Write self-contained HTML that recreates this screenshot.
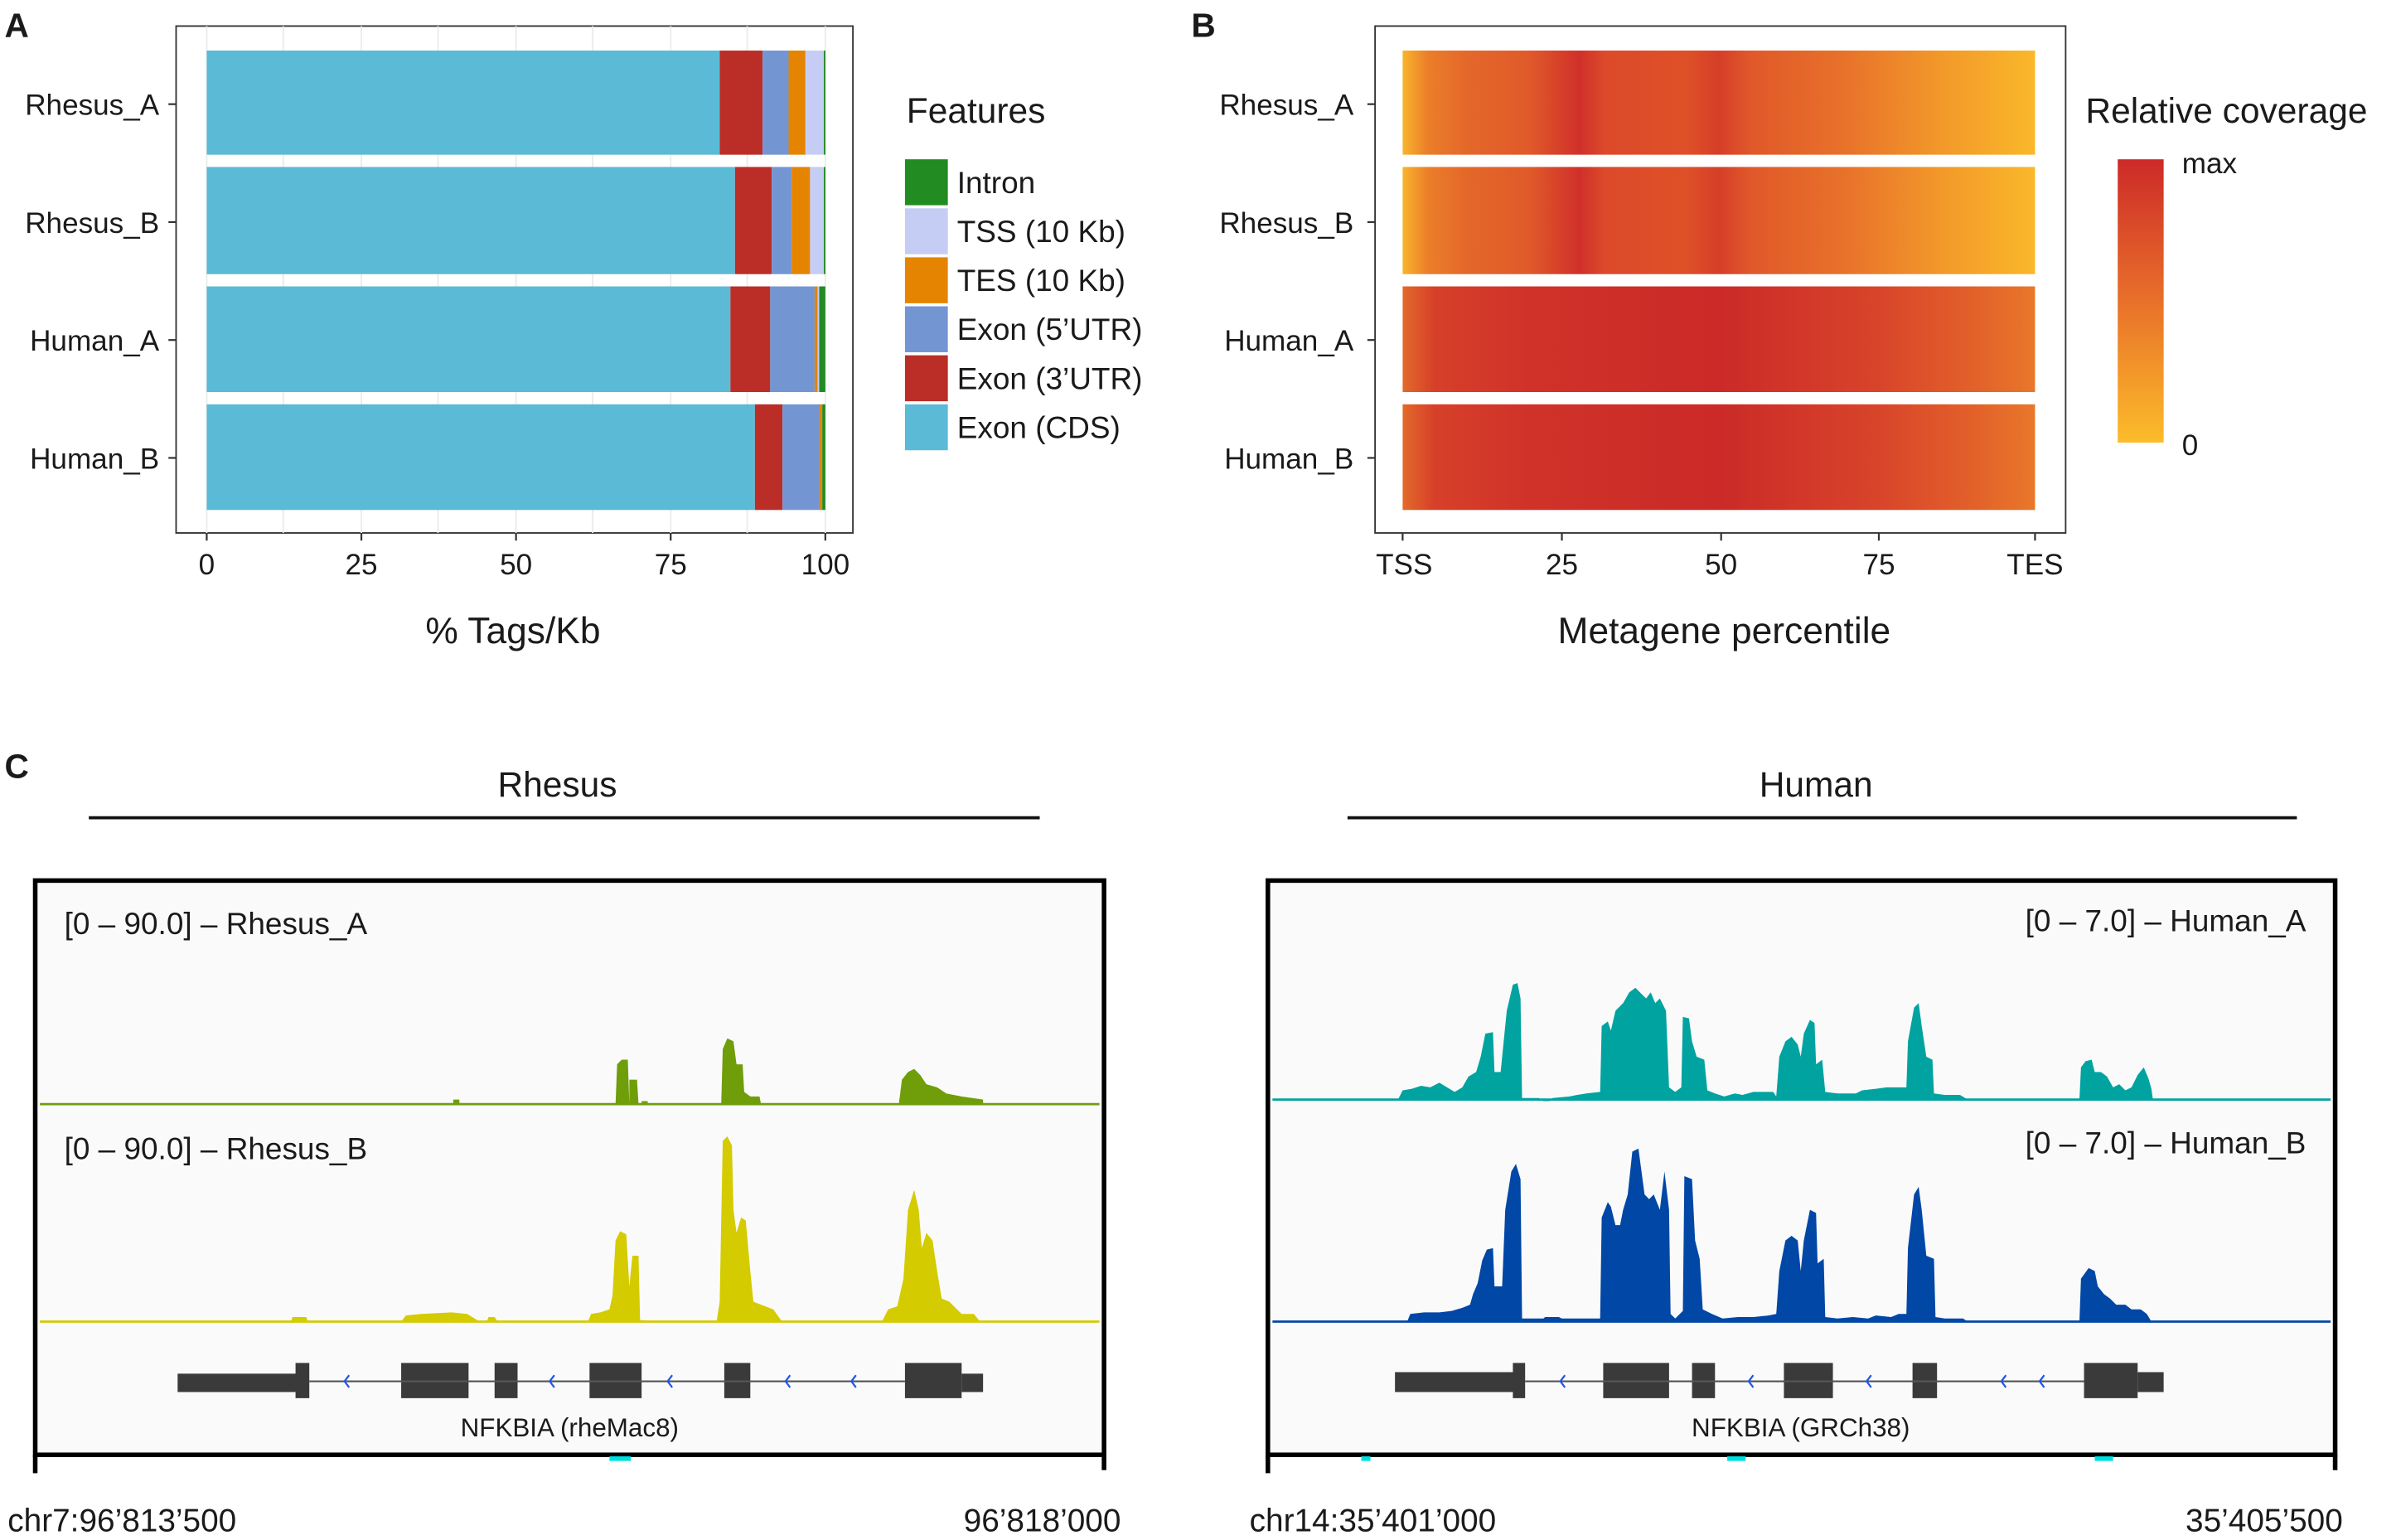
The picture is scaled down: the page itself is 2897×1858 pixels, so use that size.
<!DOCTYPE html>
<html><head><meta charset="utf-8"><style>
html,body{margin:0;padding:0;background:#fff}
svg{display:block}
text{font-family:"Liberation Sans",sans-serif;fill:#1a1a1a}
</style></head><body>
<svg width="2897" height="1858" viewBox="0 0 1568 1005.6" xmlns="http://www.w3.org/2000/svg">
<defs>
<linearGradient id="rh" x1="0" x2="1" y1="0" y2="0">
<stop offset="0" stop-color="#f8b42c"/><stop offset="0.04" stop-color="#eb7e2a"/><stop offset="0.1" stop-color="#e4682a"/>
<stop offset="0.2" stop-color="#e05a2a"/><stop offset="0.28" stop-color="#d0302a"/><stop offset="0.32" stop-color="#dc4a2a"/>
<stop offset="0.45" stop-color="#de5028"/><stop offset="0.5" stop-color="#d63e28"/><stop offset="0.55" stop-color="#e0582a"/>
<stop offset="0.7" stop-color="#e8722a"/><stop offset="0.85" stop-color="#f2982a"/><stop offset="1" stop-color="#fab82a"/>
</linearGradient>
<linearGradient id="hu" x1="0" x2="1" y1="0" y2="0">
<stop offset="0" stop-color="#e36a2a"/><stop offset="0.05" stop-color="#d64029"/><stop offset="0.2" stop-color="#d03229"/>
<stop offset="0.5" stop-color="#cb2a28"/><stop offset="0.75" stop-color="#d8442a"/><stop offset="0.9" stop-color="#e2602a"/><stop offset="1" stop-color="#e8782a"/>
</linearGradient>
<linearGradient id="leg" x1="0" x2="0" y1="0" y2="1">
<stop offset="0" stop-color="#cc2a28"/><stop offset="0.5" stop-color="#e8702a"/><stop offset="1" stop-color="#fcbc2a"/>
</linearGradient>
</defs>

<!-- Panel A -->
<text x="3" y="24" font-size="22" font-weight="bold">A</text>
<rect x="115" y="17" width="442" height="331" fill="#fff" stroke="#333" stroke-width="1"/>
<g stroke="#ebebeb" stroke-width="1">
<line x1="135" y1="17" x2="135" y2="348"/><line x1="236" y1="17" x2="236" y2="348"/><line x1="337" y1="17" x2="337" y2="348"/><line x1="438" y1="17" x2="438" y2="348"/><line x1="539" y1="17" x2="539" y2="348"/>
<line x1="185" y1="17" x2="185" y2="348"/><line x1="286" y1="17" x2="286" y2="348"/><line x1="387" y1="17" x2="387" y2="348"/><line x1="488" y1="17" x2="488" y2="348"/>
</g>
<g>
<rect x="135" y="33" width="335" height="68" fill="#5bbad5"/><rect x="470" y="33" width="28" height="68" fill="#bb2e27"/><rect x="498" y="33" width="17" height="68" fill="#7396d3"/><rect x="515" y="33" width="11" height="68" fill="#e48400"/><rect x="526" y="33" width="12" height="68" fill="#c5cdf5"/><rect x="538" y="33" width="1" height="68" fill="#228b22"/>
<rect x="135" y="109" width="345" height="70" fill="#5bbad5"/><rect x="480" y="109" width="24" height="70" fill="#bb2e27"/><rect x="504" y="109" width="13" height="70" fill="#7396d3"/><rect x="517" y="109" width="12" height="70" fill="#e48400"/><rect x="529" y="109" width="9" height="70" fill="#c5cdf5"/><rect x="538" y="109" width="1" height="70" fill="#228b22"/>
<rect x="135" y="187" width="342" height="69" fill="#5bbad5"/><rect x="477" y="187" width="26" height="69" fill="#bb2e27"/><rect x="503" y="187" width="29" height="69" fill="#7396d3"/><rect x="532" y="187" width="2" height="69" fill="#e48400"/><rect x="534" y="187" width="1" height="69" fill="#c5cdf5"/><rect x="535" y="187" width="4" height="69" fill="#228b22"/>
<rect x="135" y="264" width="358" height="69" fill="#5bbad5"/><rect x="493" y="264" width="18" height="69" fill="#bb2e27"/><rect x="511" y="264" width="24" height="69" fill="#7396d3"/><rect x="535" y="264" width="2" height="69" fill="#e48400"/><rect x="537" y="264" width="2" height="69" fill="#228b22"/>
</g>
<g stroke="#333" stroke-width="1.2">
<line x1="110" y1="68" x2="115" y2="68"/><line x1="110" y1="145" x2="115" y2="145"/><line x1="110" y1="222" x2="115" y2="222"/><line x1="110" y1="299" x2="115" y2="299"/>
<line x1="135" y1="348" x2="135" y2="353"/><line x1="236" y1="348" x2="236" y2="353"/><line x1="337" y1="348" x2="337" y2="353"/><line x1="438" y1="348" x2="438" y2="353"/><line x1="539" y1="348" x2="539" y2="353"/>
</g>
<g font-size="19" text-anchor="end">
<text x="104" y="75">Rhesus_A</text><text x="104" y="152">Rhesus_B</text><text x="104" y="229">Human_A</text><text x="104" y="306">Human_B</text>
</g>
<g font-size="19" text-anchor="middle">
<text x="135" y="375">0</text><text x="236" y="375">25</text><text x="337" y="375">50</text><text x="438" y="375">75</text><text x="539" y="375">100</text>
</g>
<text x="335" y="420" font-size="24" text-anchor="middle">% Tags/Kb</text>
<text x="592" y="80" font-size="23">Features</text>
<g>
<rect x="591" y="104" width="28" height="30" fill="#228b22"/><rect x="591" y="136" width="28" height="30" fill="#c5cdf5"/><rect x="591" y="168" width="28" height="30" fill="#e48400"/>
<rect x="591" y="200" width="28" height="30" fill="#7396d3"/><rect x="591" y="232" width="28" height="30" fill="#bb2e27"/><rect x="591" y="264" width="28" height="30" fill="#5bbad5"/>
</g>
<g font-size="20">
<text x="625" y="126">Intron</text><text x="625" y="158">TSS (10 Kb)</text><text x="625" y="190">TES (10 Kb)</text>
<text x="625" y="222">Exon (5’UTR)</text><text x="625" y="254">Exon (3’UTR)</text><text x="625" y="286">Exon (CDS)</text>
</g>

<!-- Panel B -->
<text x="778" y="24" font-size="22" font-weight="bold">B</text>
<rect x="898" y="17" width="451" height="331" fill="#fff" stroke="#333" stroke-width="1"/>
<rect x="916" y="33" width="413" height="68" fill="url(#rh)"/>
<rect x="916" y="109" width="413" height="70" fill="url(#rh)"/>
<rect x="916" y="187" width="413" height="69" fill="url(#hu)"/>
<rect x="916" y="264" width="413" height="69" fill="url(#hu)"/>
<g stroke="#333" stroke-width="1.2">
<line x1="893" y1="68" x2="898" y2="68"/><line x1="893" y1="145" x2="898" y2="145"/><line x1="893" y1="222" x2="898" y2="222"/><line x1="893" y1="299" x2="898" y2="299"/>
<line x1="916" y1="348" x2="916" y2="353"/><line x1="1020" y1="348" x2="1020" y2="353"/><line x1="1124" y1="348" x2="1124" y2="353"/><line x1="1227" y1="348" x2="1227" y2="353"/><line x1="1329" y1="348" x2="1329" y2="353"/>
</g>
<g font-size="19" text-anchor="end">
<text x="884" y="75">Rhesus_A</text><text x="884" y="152">Rhesus_B</text><text x="884" y="229">Human_A</text><text x="884" y="306">Human_B</text>
</g>
<g font-size="19" text-anchor="middle">
<text x="917" y="375">TSS</text><text x="1020" y="375">25</text><text x="1124" y="375">50</text><text x="1227" y="375">75</text><text x="1329" y="375">TES</text>
</g>
<text x="1126" y="420" font-size="24" text-anchor="middle">Metagene percentile</text>
<text x="1362" y="80" font-size="23">Relative coverage</text>
<rect x="1383" y="104" width="30" height="185" fill="url(#leg)"/>
<text x="1425" y="113" font-size="19">max</text>
<text x="1425" y="297" font-size="19">0</text>

<!-- Panel C -->
<text x="3" y="508" font-size="22" font-weight="bold">C</text>
<text x="364" y="520" font-size="23" text-anchor="middle">Rhesus</text>
<line x1="58" y1="534" x2="679" y2="534" stroke="#111" stroke-width="2"/>
<text x="1186" y="520" font-size="23" text-anchor="middle">Human</text>
<line x1="880" y1="534" x2="1500" y2="534" stroke="#111" stroke-width="2"/>

<!-- Rhesus box -->
<rect x="23" y="575" width="698" height="375" fill="#fafafa" stroke="#000" stroke-width="3"/>
<line x1="23" y1="950" x2="23" y2="962" stroke="#000" stroke-width="3"/><line x1="721" y1="950" x2="721" y2="960" stroke="#000" stroke-width="3"/>
<rect x="398" y="951" width="14" height="3" fill="#00e0e0"/>
<text x="42" y="610" font-size="20">[0 – 90.0] – Rhesus_A</text>
<text x="42" y="757" font-size="20">[0 – 90.0] – Rhesus_B</text>
<polygon fill="#6f9e0a" points="296,721 296,718 300,718 300,721 402,721 403,695 406,692 410,692 411,721 411,705 416,705 417,721 419,721 419,719 423,719 423,721 471,721 472,685 475,678 479,680 481,695 485,695 486,713 490,716 496,716 497,721 587,721 589,705 593,700 597,698 601,702 605,708 612,710 618,714 628,716 642,718 642,721"/>
<line x1="26" y1="721" x2="718" y2="721" stroke="#6f9e0a" stroke-width="1.5"/>
<polygon fill="#d4cb00" points="190,863 191,860 200,860 201,863 262,863 265,859 275,858 295,857 305,858 310,861 313,863 318,863 319,860 323,860 325,863 384,863 386,858 392,857 398,855 400,846 402,810 405,804 409,806 411,840 413,820 417,820 418,862 430,863 468,863 470,850 472,745 475,742 478,748 479,790 481,805 484,795 487,797 490,830 492,850 497,852 505,855 510,862 512,863 576,863 580,855 586,853 590,835 593,790 597,777 600,790 602,815 605,805 609,810 612,830 615,848 620,850 625,855 628,858 636,858 640,863"/>
<line x1="26" y1="863" x2="718" y2="863" stroke="#d4cb00" stroke-width="1.5"/>
<g fill="#3a3a3a">
<rect x="116" y="897" width="78" height="12"/><rect x="193" y="890" width="9" height="23"/>
<rect x="262" y="890" width="44" height="23"/><rect x="323" y="890" width="15" height="23"/><rect x="385" y="890" width="34" height="23"/>
<rect x="473" y="890" width="17" height="23"/><rect x="591" y="890" width="37" height="23"/><rect x="628" y="897" width="14" height="12"/>
</g>
<line x1="202" y1="902" x2="591" y2="902" stroke="#555" stroke-width="1.2"/>
<g fill="none" stroke="#2255ee" stroke-width="1.2"><path d="M228,898 L225,902 L228,906"/><path d="M362,898 L359,902 L362,906"/><path d="M439,898 L436,902 L439,906"/><path d="M516,898 L513,902 L516,906"/><path d="M559,898 L556,902 L559,906"/></g>
<text x="372" y="938" font-size="17" text-anchor="middle">NFKBIA (rheMac8)</text>
<text x="5" y="1000" font-size="21">chr7:96’813’500</text>
<text x="732" y="1000" font-size="21" text-anchor="end">96’818’000</text>

<!-- Human box -->
<rect x="828" y="575" width="697" height="375" fill="#fafafa" stroke="#000" stroke-width="3"/>
<line x1="828" y1="950" x2="828" y2="962" stroke="#000" stroke-width="3"/><line x1="1525" y1="950" x2="1525" y2="960" stroke="#000" stroke-width="3"/>
<rect x="889" y="951" width="6" height="3" fill="#00e0e0"/><rect x="1128" y="951" width="12" height="3" fill="#00e0e0"/><rect x="1368" y="951" width="12" height="3" fill="#00e0e0"/>
<text x="1506" y="608" font-size="20" text-anchor="end">[0 – 7.0] – Human_A</text>
<text x="1506" y="753" font-size="20" text-anchor="end">[0 – 7.0] – Human_B</text>
<polygon fill="#00a3a0" points="913,718 916,712 922,711 928,709 934,710 940,707 945,710 950,713 955,710 959,703 964,700 967,690 970,675 975,674 976,700 980,700 984,660 988,643 991,642 993,652 994,717 1005,717 1008,719 1012,719 1014,717 1025,716 1030,715 1036,714 1045,713 1046,670 1050,667 1052,673 1055,660 1060,655 1064,648 1068,645 1072,649 1075,652 1078,648 1081,655 1084,652 1088,660 1090,710 1094,713 1098,710 1099,664 1103,665 1105,680 1108,690 1113,692 1115,712 1120,714 1126,716 1133,714 1138,715 1145,713 1158,713 1160,716 1162,690 1166,680 1170,677 1174,682 1176,690 1178,675 1182,666 1185,668 1186,695 1190,692 1192,713 1200,714 1212,714 1216,712 1225,711 1232,710 1240,710 1245,710 1246,680 1250,658 1253,655 1255,670 1258,690 1262,692 1263,714 1270,715 1280,715 1285,718 1358,718 1359,697 1362,693 1366,692 1368,700 1372,700 1376,703 1380,710 1384,708 1388,712 1392,710 1396,702 1400,697 1403,704 1405,711 1406,718"/>
<line x1="831" y1="718" x2="1522" y2="718" stroke="#00a3a0" stroke-width="1.5"/>
<polygon fill="#0047a6" points="919,863 921,858 930,857 940,857 948,856 955,854 960,852 962,845 965,838 968,823 971,816 975,815 976,840 981,840 983,790 987,765 990,760 993,770 994,861 1000,861 1008,861 1009,860 1018,860 1020,861 1045,861 1046,795 1050,785 1052,788 1055,800 1058,800 1060,790 1063,780 1066,752 1070,750 1074,780 1077,783 1080,780 1084,790 1087,765 1090,790 1091,858 1094,861 1099,856 1100,768 1105,770 1107,810 1110,822 1112,855 1118,858 1125,861 1135,860 1145,860 1155,859 1160,858 1162,830 1166,810 1170,807 1174,810 1176,830 1178,810 1182,790 1186,792 1187,825 1191,822 1192,860 1200,861 1210,860 1220,861 1225,859 1235,860 1240,858 1245,858 1246,815 1250,780 1253,775 1255,790 1258,820 1263,822 1264,860 1270,861 1282,861 1285,863 1358,863 1359,835 1364,828 1368,830 1370,840 1374,845 1378,848 1382,852 1388,852 1392,855 1398,855 1402,858 1405,863"/>
<line x1="831" y1="863" x2="1522" y2="863" stroke="#0047a6" stroke-width="1.5"/>
<g fill="#3a3a3a">
<rect x="911" y="896" width="78" height="13"/><rect x="988" y="890" width="8" height="23"/>
<rect x="1047" y="890" width="43" height="23"/><rect x="1105" y="890" width="15" height="23"/><rect x="1165" y="890" width="32" height="23"/>
<rect x="1249" y="890" width="16" height="23"/><rect x="1361" y="890" width="35" height="23"/><rect x="1396" y="896" width="17" height="13"/>
</g>
<line x1="996" y1="902" x2="1361" y2="902" stroke="#555" stroke-width="1.2"/>
<g fill="none" stroke="#2255ee" stroke-width="1.2"><path d="M1022,898 L1019,902 L1022,906"/><path d="M1145,898 L1142,902 L1145,906"/><path d="M1222,898 L1219,902 L1222,906"/><path d="M1310,898 L1307,902 L1310,906"/><path d="M1335,898 L1332,902 L1335,906"/></g>
<text x="1176" y="938" font-size="17" text-anchor="middle">NFKBIA (GRCh38)</text>
<text x="816" y="1000" font-size="21">chr14:35’401’000</text>
<text x="1530" y="1000" font-size="21" text-anchor="end">35’405’500</text>
</svg>
</body></html>
